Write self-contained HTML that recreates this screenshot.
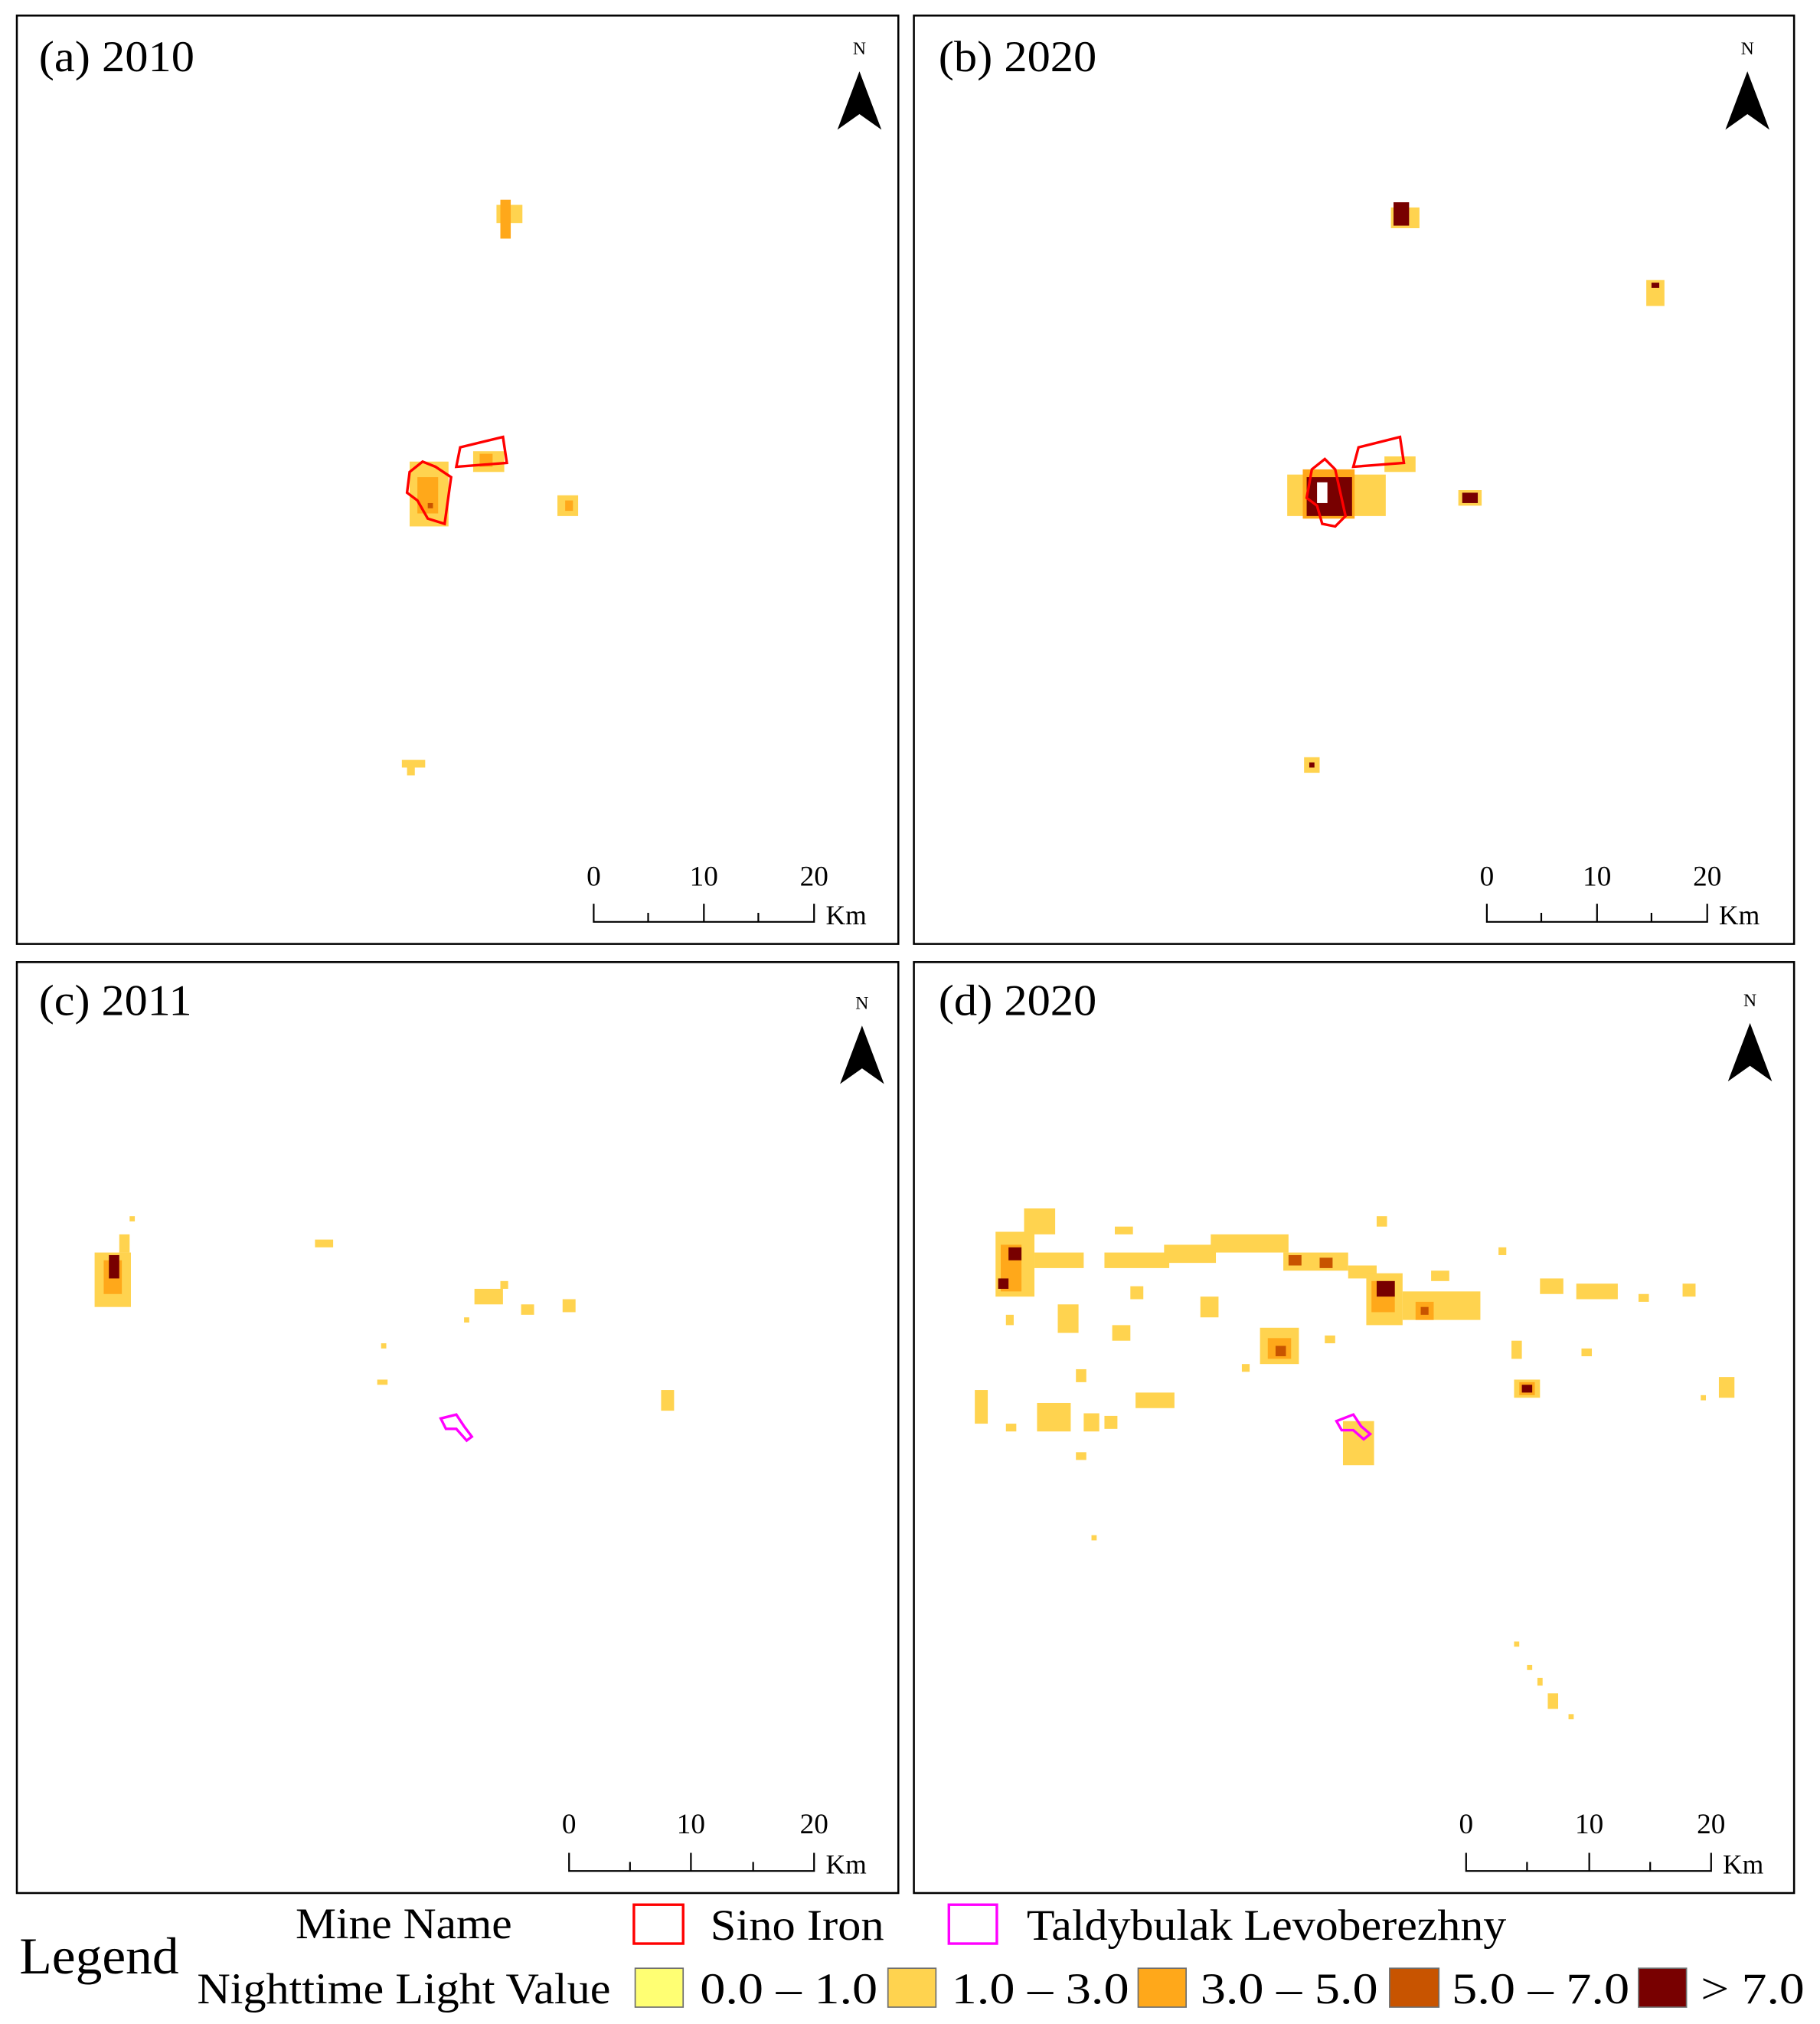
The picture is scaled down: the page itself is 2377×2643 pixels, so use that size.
<!DOCTYPE html>
<html><head><meta charset="utf-8">
<style>
html,body{margin:0;padding:0;background:#fff;}
svg{display:block;}
text{font-family:"Liberation Serif",serif;fill:#000;}
</style></head>
<body>
<svg width="2377" height="2643" viewBox="0 0 1404 1561" preserveAspectRatio="none" xmlns="http://www.w3.org/2000/svg">
<defs>
<g id="north"><polygon points="0,0 -17,45 0,33 17,45" fill="#000"/></g>
</defs>
<rect x="13" y="12" width="680" height="716" fill="none" stroke="#000" stroke-width="1.5"/>
<rect x="705" y="12" width="679" height="716" fill="none" stroke="#000" stroke-width="1.5"/>
<rect x="13" y="742" width="680" height="718" fill="none" stroke="#000" stroke-width="1.5"/>
<rect x="705" y="742" width="679" height="718" fill="none" stroke="#000" stroke-width="1.5"/>

<text x="30" y="55" font-size="34" textLength="120" lengthAdjust="spacingAndGlyphs">(a) 2010</text>
<text x="724" y="55" font-size="34" textLength="122" lengthAdjust="spacingAndGlyphs">(b) 2020</text>
<text x="30" y="783" font-size="34" textLength="118" lengthAdjust="spacingAndGlyphs">(c) 2011</text>
<text x="724" y="783" font-size="34" textLength="122" lengthAdjust="spacingAndGlyphs">(d) 2020</text>

<text x="663" y="42" font-size="14" text-anchor="middle">N</text><use href="#north" x="663" y="55"/>
<text x="1348" y="42" font-size="14" text-anchor="middle">N</text><use href="#north" x="1348" y="55"/>
<text x="665" y="778" font-size="14" text-anchor="middle">N</text><use href="#north" x="665" y="791"/>
<text x="1350" y="776" font-size="14" text-anchor="middle">N</text><use href="#north" x="1350" y="789"/>

<g stroke="#000" stroke-width="1.3" fill="none">
<path d="M458,697V711H628V697M500,704V711M543,697V711M585,704V711"/>
<path d="M1147,697V711H1317V697M1189,704V711M1232,697V711M1274,704V711"/>
<path d="M439,1429V1443H628V1429M486,1436V1443M533,1429V1443M581,1436V1443"/>
<path d="M1131,1429V1443H1320V1429M1178,1436V1443M1226,1429V1443M1273,1436V1443"/>
</g>
<g font-size="22" text-anchor="middle">
<text x="458" y="683">0</text><text x="543" y="683">10</text><text x="628" y="683">20</text>
<text x="1147" y="683">0</text><text x="1232" y="683">10</text><text x="1317" y="683">20</text>
<text x="439" y="1414">0</text><text x="533" y="1414">10</text><text x="628" y="1414">20</text>
<text x="1131" y="1414">0</text><text x="1226" y="1414">10</text><text x="1320" y="1414">20</text>
</g>
<g font-size="21">
<text x="637" y="713">Km</text><text x="1326" y="713">Km</text>
<text x="637" y="1445">Km</text><text x="1329" y="1445">Km</text>
</g>

<g>
<rect x="383" y="158" width="20" height="14" fill="#ffd34f"/><rect x="386" y="154" width="8" height="30" fill="#ffa81a"/>
<rect x="316" y="356" width="30" height="50" fill="#ffd34f"/><rect x="322" y="368" width="16" height="28" fill="#ffa81a"/><rect x="330" y="388" width="4" height="4" fill="#c85400"/>
<rect x="365" y="348" width="24" height="16" fill="#ffd34f"/><rect x="370" y="350" width="10" height="10" fill="#ffa81a"/>
<rect x="430" y="382" width="16" height="16" fill="#ffd34f"/><rect x="436" y="386" width="6" height="8" fill="#ffa81a"/>
<rect x="310" y="586" width="18" height="6" fill="#ffd34f"/><rect x="314" y="590" width="6" height="8" fill="#ffd34f"/>
<path d="M316,364L326,356L336,360L348,368L343,404L330,400L322,386L314,380Z" fill="none" stroke="#f00" stroke-width="2"/>
<path d="M355,345L388,337L391,357L352,360Z" fill="none" stroke="#f00" stroke-width="2"/>
</g>
<g>
<rect x="1073" y="160" width="22" height="16" fill="#ffd34f"/><rect x="1075" y="156" width="12" height="18" fill="#780000"/>
<rect x="1270" y="216" width="14" height="20" fill="#ffd34f"/><rect x="1274" y="218" width="6" height="4" fill="#780000"/>
<rect x="993" y="366" width="76" height="32" fill="#ffd34f"/><rect x="1005" y="362" width="40" height="38" fill="#ffa81a"/>
<rect x="1008" y="368" width="35" height="30" fill="#780000"/><rect x="1016" y="372" width="8" height="16" fill="#fff"/>
<rect x="1125" y="378" width="18" height="12" fill="#ffd34f"/><rect x="1128" y="380" width="12" height="8" fill="#780000"/>
<rect x="1068" y="352" width="24" height="12" fill="#ffd34f"/>
<rect x="1006" y="584" width="12" height="12" fill="#ffd34f"/><rect x="1010" y="588" width="4" height="4" fill="#780000"/>
<path d="M1012,362L1022,354L1030,362L1038,398L1030,406L1020,404L1016,390L1008,384Z" fill="none" stroke="#f00" stroke-width="2"/>
<path d="M1048,345L1080,337L1083,357L1044,360Z" fill="none" stroke="#f00" stroke-width="2"/>
</g>
<g fill="#ffd34f">
<rect x="73" y="966" width="28" height="42"/><rect x="92" y="952" width="8" height="14"/><rect x="100" y="938" width="4" height="4"/>
<rect x="243" y="956" width="14" height="6"/><rect x="366" y="994" width="22" height="12"/><rect x="386" y="988" width="6" height="6"/>
<rect x="402" y="1006" width="10" height="8"/><rect x="434" y="1002" width="10" height="10"/><rect x="358" y="1016" width="4" height="4"/>
<rect x="294" y="1036" width="4" height="4"/><rect x="291" y="1064" width="8" height="4"/><rect x="510" y="1072" width="10" height="16"/>
</g>
<rect x="80" y="972" width="14" height="26" fill="#ffa81a"/><rect x="84" y="968" width="8" height="18" fill="#780000"/>
<path d="M340,1094L352,1091L358,1100L364,1108L360,1111L352,1102L344,1102Z" fill="none" stroke="#f0f" stroke-width="2"/>
<g fill="#ffd34f">
<rect x="768" y="950" width="30" height="50"/><rect x="790" y="932" width="24" height="20"/><rect x="798" y="966" width="38" height="12"/>
<rect x="852" y="966" width="50" height="12"/><rect x="898" y="960" width="40" height="14"/><rect x="934" y="952" width="60" height="14"/>
<rect x="990" y="966" width="50" height="14"/><rect x="1040" y="976" width="22" height="10"/><rect x="1054" y="982" width="28" height="40"/>
<rect x="1082" y="996" width="60" height="22"/><rect x="1104" y="980" width="14" height="8"/><rect x="1188" y="986" width="18" height="12"/>
<rect x="1216" y="990" width="32" height="12"/><rect x="1298" y="990" width="10" height="10"/><rect x="1264" y="998" width="8" height="6"/>
<rect x="860" y="946" width="14" height="6"/><rect x="1062" y="938" width="8" height="8"/><rect x="1156" y="962" width="6" height="6"/>
<rect x="816" y="1006" width="16" height="22"/><rect x="776" y="1014" width="6" height="8"/><rect x="872" y="992" width="10" height="10"/>
<rect x="926" y="1000" width="14" height="16"/><rect x="858" y="1022" width="14" height="12"/><rect x="972" y="1024" width="30" height="28"/>
<rect x="1022" y="1030" width="8" height="6"/><rect x="1166" y="1034" width="8" height="14"/><rect x="1220" y="1040" width="8" height="6"/>
<rect x="1168" y="1064" width="20" height="14"/><rect x="1326" y="1062" width="12" height="16"/><rect x="752" y="1072" width="10" height="26"/>
<rect x="800" y="1082" width="26" height="22"/><rect x="830" y="1056" width="8" height="10"/><rect x="836" y="1090" width="12" height="14"/>
<rect x="852" y="1092" width="10" height="10"/><rect x="876" y="1074" width="30" height="12"/><rect x="776" y="1098" width="8" height="6"/>
<rect x="958" y="1052" width="6" height="6"/><rect x="1036" y="1096" width="24" height="34"/><rect x="1312" y="1076" width="4" height="4"/>
<rect x="830" y="1120" width="8" height="6"/><rect x="842" y="1184" width="4" height="4"/>
<rect x="1168" y="1266" width="4" height="4"/><rect x="1178" y="1284" width="4" height="4"/><rect x="1186" y="1294" width="4" height="6"/>
<rect x="1194" y="1306" width="8" height="12"/><rect x="1210" y="1322" width="4" height="4"/>
</g>
<g fill="#ffa81a"><rect x="772" y="960" width="16" height="36"/><rect x="1058" y="988" width="18" height="24"/><rect x="978" y="1032" width="18" height="16"/><rect x="1092" y="1004" width="14" height="14"/><rect x="1172" y="1066" width="12" height="10"/></g>
<g fill="#c85400"><rect x="994" y="968" width="10" height="8"/><rect x="1018" y="970" width="10" height="8"/><rect x="1096" y="1008" width="6" height="6"/><rect x="984" y="1038" width="8" height="8"/></g>
<g fill="#780000"><rect x="778" y="962" width="10" height="10"/><rect x="770" y="986" width="8" height="8"/><rect x="1062" y="988" width="14" height="12"/><rect x="1174" y="1068" width="8" height="6"/></g>
<path d="M1031,1096L1044,1091L1050,1100L1057,1106L1052,1110L1044,1103L1035,1103Z" fill="none" stroke="#f0f" stroke-width="2"/>

<text x="15" y="1522" font-size="40" textLength="123" lengthAdjust="spacingAndGlyphs">Legend</text>
<text x="228" y="1495" font-size="34" textLength="167" lengthAdjust="spacingAndGlyphs">Mine Name</text>
<rect x="489" y="1469" width="38" height="30" fill="none" stroke="#f00" stroke-width="2"/>
<text x="548" y="1496" font-size="34" textLength="134" lengthAdjust="spacingAndGlyphs">Sino Iron</text>
<rect x="732" y="1469" width="37" height="30" fill="none" stroke="#f0f" stroke-width="2"/>
<text x="792" y="1496" font-size="34" textLength="370" lengthAdjust="spacingAndGlyphs">Taldybulak Levoberezhny</text>
<text x="152" y="1545" font-size="34" textLength="319" lengthAdjust="spacingAndGlyphs">Nighttime Light Value</text>
<g stroke="#6e6e6e" stroke-width="1">
<rect x="490" y="1518" width="37" height="30" fill="#ffff73"/>
<rect x="685" y="1518" width="37" height="30" fill="#ffd34f"/>
<rect x="878" y="1518" width="37" height="30" fill="#ffa81a"/>
<rect x="1072" y="1518" width="38" height="30" fill="#c85400"/>
<rect x="1264" y="1518" width="37" height="30" fill="#780000"/>
</g>
<g font-size="34">
<text x="540" y="1545" textLength="137" lengthAdjust="spacingAndGlyphs">0.0 – 1.0</text>
<text x="734" y="1545" textLength="137" lengthAdjust="spacingAndGlyphs">1.0 – 3.0</text>
<text x="926" y="1545" textLength="137" lengthAdjust="spacingAndGlyphs">3.0 – 5.0</text>
<text x="1120" y="1545" textLength="137" lengthAdjust="spacingAndGlyphs">5.0 – 7.0</text>
<text x="1312" y="1545" textLength="80" lengthAdjust="spacingAndGlyphs">&gt; 7.0</text>
</g>
</svg>
</body></html>
